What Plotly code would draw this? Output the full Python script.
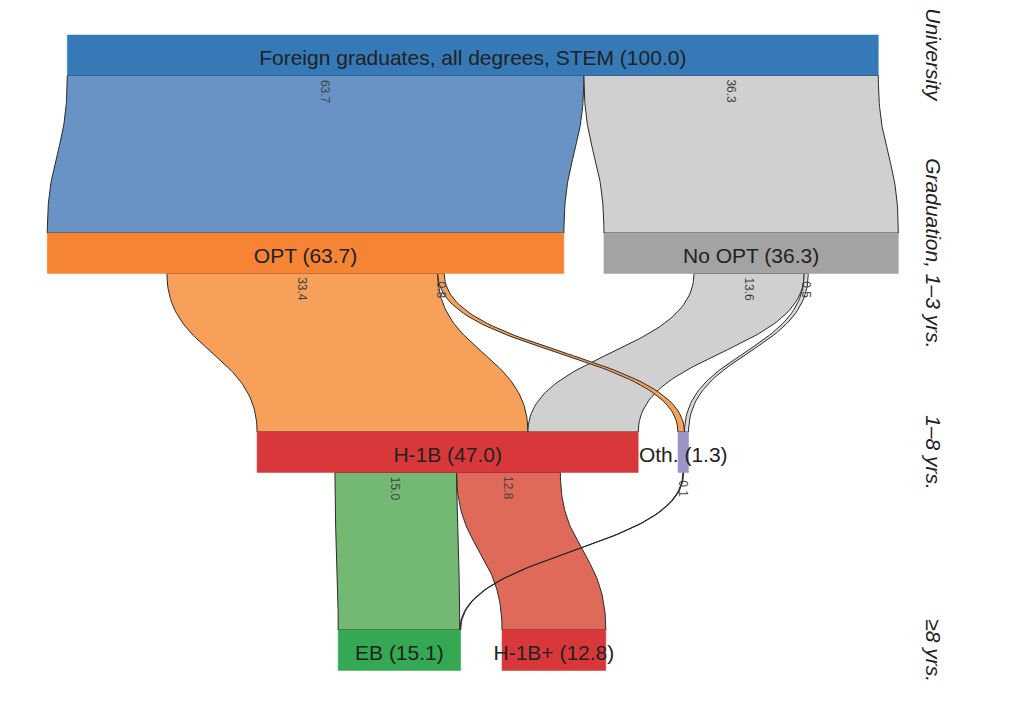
import numpy as np
import plotly.graph_objects as go

# ---------------- data ----------------
node_names = ["Foreign graduates, all degrees, STEM", "OPT", "No OPT", "H-1B", "Oth.", "EB", "H-1B+"]
node_values = [100.0, 63.7, 36.3, 47.0, 1.3, 15.1, 12.8]
node_level = [0, 1, 1, 2, 2, 3, 3]

link_source = [0, 0, 1, 1, 2, 2, 3, 3, 4]
link_target = [1, 2, 3, 4, 3, 4, 5, 6, 5]
link_value = [63.7, 36.3, 33.4, 0.8, 13.6, 0.5, 15.0, 12.8, 0.1]

level_labels = ["University", "Graduation, 1\u20133 yrs.", "1\u20138 yrs.", "\u22658 yrs."]

# ---------------- layout / style ----------------
node_colors = ["#3579b6", "#f58534", "#a3a3a3", "#d9383b", "#9c94c8", "#34a853", "#d9383b"]
link_colors = ["#6893c4", "#d0d0d0", "#f6a05a", "#f6a05a", "#d0d0d0", "#dadada",
               "#73b873", "#e06a5a", "#333333"]
node_left = [0.0, -2.47, 66.17, 23.4, 75.3, 33.4, 53.6]   # horizontal offsets (units)
level_top = [35, 233, 432, 630]                          # vertical positions (px)
node_h = 40.5
label_dy = 4.5
draw_order = [0, 1, 2, 4, 3, 5, 6, 7, 8]

PX_PER_UNIT = 8.11
X0_PX = 67.3
BODY = 8          # page margin around the plot div
W, H = 1020, 703
FONT = "Liberation Sans, Arial, sans-serif"

fig = go.Figure()

# attachment positions
out_sum = [0.0] * len(node_names)
in_sum = [0.0] * len(node_names)
for s, t, v in zip(link_source, link_target, link_value):
    out_sum[s] += v
    in_sum[t] += v
out_cur = [node_left[i] + (node_values[i] - out_sum[i]) / 2 for i in range(len(node_names))]
in_cur = [node_left[i] + (node_values[i] - in_sum[i]) / 2 for i in range(len(node_names))]

geo = []
for s, t, v in zip(link_source, link_target, link_value):
    xs0 = out_cur[s]; out_cur[s] += v
    xt0 = in_cur[t]; in_cur[t] += v
    geo.append((xs0, xs0 + v, xt0, xt0 + v,
                level_top[node_level[s]] + node_h, level_top[node_level[t]]))


def bez(xa, ya, xb, yb, n=60):
    tt = np.linspace(0, 1, n)
    d = (yb - ya) * 0.5
    p0 = np.array([xa, ya]); p1 = np.array([xa, ya + d])
    p2 = np.array([xb, yb - d]); p3 = np.array([xb, yb])
    pts = ((1 - tt) ** 3)[:, None] * p0 + (3 * (1 - tt) ** 2 * tt)[:, None] * p1 \
        + (3 * (1 - tt) * tt ** 2)[:, None] * p2 + (tt ** 3)[:, None] * p3
    return pts[:, 0], pts[:, 1]


for i in draw_order:
    xs0, xs1, xt0, xt1, ys, yt = geo[i]
    lx, ly = bez(xs0, ys, xt0, yt)
    rx, ry = bez(xs1, ys, xt1, yt)
    px = np.concatenate([lx, rx[::-1], [lx[0]]])
    py = np.concatenate([ly, ry[::-1], [ly[0]]])
    fig.add_trace(go.Scatter(x=px, y=py, mode="lines", fill="toself",
                             fillcolor=link_colors[i],
                             line=dict(color="#2a2a2a", width=1),
                             hoverinfo="skip", showlegend=False))

# nodes
for i, name in enumerate(node_names):
    x0 = node_left[i]; x1 = x0 + node_values[i]
    y0 = level_top[node_level[i]]; y1 = y0 + node_h
    fig.add_trace(go.Scatter(x=[x0, x1, x1, x0, x0], y=[y0, y0, y1, y1, y0],
                             mode="lines", fill="toself", fillcolor=node_colors[i],
                             line=dict(color=node_colors[i], width=0.5),
                             hoverinfo="skip", showlegend=False))

# node labels
fig.add_trace(go.Scatter(
    x=[node_left[i] + node_values[i] / 2 for i in range(len(node_names))],
    y=[level_top[node_level[i]] + node_h / 2 + label_dy for i in range(len(node_names))],
    mode="text",
    text=[f"{n} ({v:.1f})" for n, v in zip(node_names, node_values)],
    textfont=dict(family=FONT, size=21, color="#222222"),
    textposition="middle center", hoverinfo="skip", showlegend=False))

# link labels
for i, v in enumerate(link_value):
    xs0, xs1, xt0, xt1, ys, yt = geo[i]
    fig.add_annotation(x=(xs0 + xs1) / 2, y=ys + 16, text=f"{v:.1f}",
                       textangle=90, showarrow=False,
                       font=dict(family=FONT, size=12, color="#444444"))

# level labels
for k, lab in enumerate(level_labels):
    fig.add_annotation(x=(934 - X0_PX) / PX_PER_UNIT, y=level_top[k] + node_h / 2,
                       text=lab, textangle=90, showarrow=False,
                       font=dict(family=FONT, size=21, color="#222222", style="italic"))

fig.update_layout(
    width=W, height=H, margin=dict(l=0, r=0, t=0, b=0),
    paper_bgcolor="white", plot_bgcolor="white",
    xaxis=dict(range=[-(X0_PX - BODY) / PX_PER_UNIT, (W - X0_PX + BODY) / PX_PER_UNIT],
               visible=False, fixedrange=True),
    yaxis=dict(range=[H + BODY, BODY], visible=False, fixedrange=True),
)

fig.write_html("out.html")
